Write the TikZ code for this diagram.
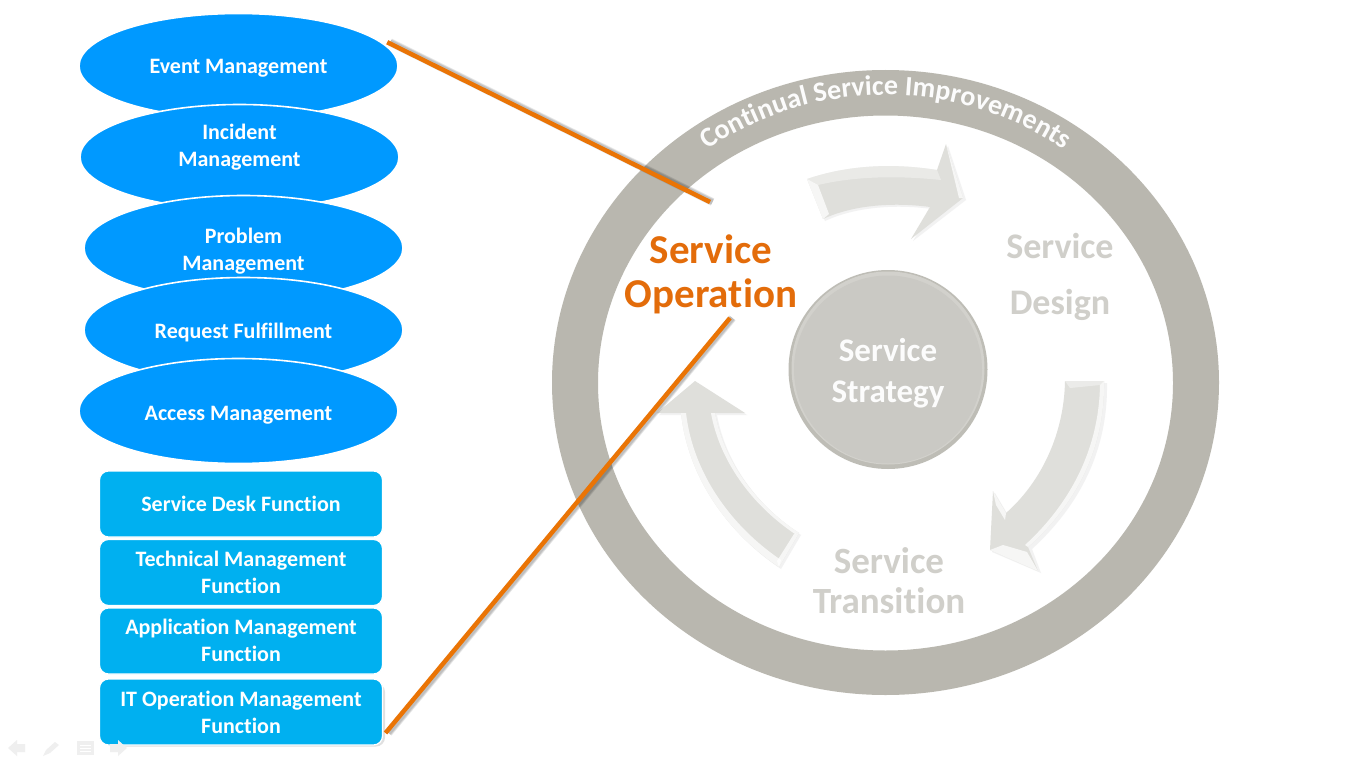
\documentclass[tikz,border=0pt]{standalone}
\usepackage{fontspec}
\setmainfont{Carlito}[Ligatures=NoCommon]
\usetikzlibrary{shapes.geometric,decorations.text,calc}
\definecolor{ringc}{HTML}{B9B7AF}
\definecolor{ellc}{HTML}{0099FF}
\definecolor{boxc}{HTML}{00B0F0}
\definecolor{orangec}{HTML}{E36C0A}
\definecolor{linec}{HTML}{EA7405}
\definecolor{greytxt}{HTML}{D0CFCA}
\definecolor{arrowc}{HTML}{DFDFDB}
\definecolor{hubc}{HTML}{CAC9C4}
\definecolor{hubd}{HTML}{BEBDB6}
\definecolor{hubl}{HTML}{D2D1CC}
\definecolor{navc}{HTML}{EFEFEF}
\newcommand{\lifted}[2]{\raisebox{#1}[0pt][0pt]{\begin{tabular}{@{}c@{}}#2\end{tabular}}}
\tikzset{
  x=1pt,y=-1pt,
  oval/.style={ellipse,fill=ellc,draw=white,line width=1.6pt,minimum width=319pt,minimum height=105pt,
    inner sep=0pt,outer sep=0pt,text=white,align=center,font=\fontsize{22}{27}\selectfont\bfseries},
  fnbox/.style={rectangle,rounded corners=9pt,fill=boxc,draw=white,line width=1.2pt,minimum width=283pt,minimum height=66pt,
    inner sep=0pt,outer sep=0pt,text=white,align=center,font=\fontsize{22}{27}\selectfont\bfseries},
  phase/.style={text=greytxt,align=center,inner sep=0pt,font=\fontsize{36}{40}\selectfont\bfseries},
  link/.style={draw=linec,line width=4.5pt},
  linkshadow/.style={draw=black,opacity=.09},
  flow/.style={fill=arrowc},
  flowshadow/.style={fill=black!5},
  bevel/.style={fill=white,opacity=.75},
  nav/.style={fill=navc,draw=none},
}
\begin{document}
\begin{tikzpicture}
\useasboundingbox (0,0) rectangle (1366,768);
\fill[white] (0,0) rectangle (1366,768);

% ---- ring
\fill[ringc,even odd rule] (885.5,382.5) ellipse [x radius=333.5pt,y radius=312.5pt]
      (885.5,383) ellipse [x radius=287.5pt,y radius=267.5pt];
\path[postaction={decorate},decoration={text along path,text align=center,
   text color=white!96!ringc,
   text={|\fontsize{28}{28}\selectfont\bfseries|Continual Service Improvements}}]
   plot[domain=146:34,samples=100] ({885.5+303*cos(\x)},{382-287*sin(\x)});

% ---- centre hub
\node[circle,fill=hubd,minimum size=199pt,inner sep=0pt,outer sep=0pt] (hub) at (888,369.5) {};
\fill[hubl] (888,368) circle [radius=96.5pt];
\fill[hubc] (888,369.5) circle [radius=94pt];
\node[text=white!95!hubc,align=center,inner sep=0pt,font=\fontsize{33}{41}\selectfont\bfseries] (strategy) at (888,373) {Service\\Strategy};

% ---- flow arrows: top
\path[flowshadow] (809,181) .. controls (850,167) and (895,165) .. (939,172) -- (948,146) -- (966,200) -- (913,241) -- (932,209)
   .. controls (895,204) and (855,207) .. (825,221) -- cycle;
\path[flow] (807,179) .. controls (848,165) and (893,163) .. (937,170) -- (946,144) -- (963,198) -- (911,239) -- (930,207)
   .. controls (893,202) and (853,205) .. (823,219) -- cycle;
\path[fill=white,opacity=.35] (807,179) .. controls (848,165) and (893,163) .. (937,170) -- (941,180)
   .. controls (893,175) and (852,177) .. (818,185) -- cycle;
\path[bevel] (807,179) -- (818,185) -- (829,214) -- (823,219) -- cycle;
\path[bevel] (946,144) -- (963,198) -- (959,198) -- cycle;

% ---- flow arrows: right
\path[flowshadow] (1067,383) -- (1107,383) .. controls (1108,450) and (1080,505) .. (1032,549) -- (1041,573) -- (992,552) -- (995,493) -- (1008,515)
   .. controls (1040,487) and (1066,440) .. (1067,383) -- cycle;
\path[flow] (1065,381) -- (1104,381) .. controls (1105,448) and (1077,503) .. (1028,547) -- (1038,571) -- (990,550) -- (993,491) -- (1006,513)
   .. controls (1038,485) and (1064,438) .. (1065,381) -- cycle;
\path[bevel] (1104,381) .. controls (1105,448) and (1077,503) .. (1028,547) -- (1025,545)
   .. controls (1071,503) and (1099,448) .. (1100,385) -- cycle;
\path[fill=white,opacity=.4] (1065,381) -- (1104,381) -- (1100,385) -- (1070,388) -- cycle;
\path[bevel] (990,550) -- (1038,571) -- (1027,552) -- (1003,545) -- cycle;
\path[bevel] (993,491) -- (1006,513) -- (1005,520) -- (996,505) -- cycle;

% ---- flow arrows: left
\path[flowshadow] (697,383) -- (747,415) -- (717,415)
   .. controls (725,460) and (755,505) .. (801,535) -- (781,569)
   .. controls (730,535) and (690,480) .. (683,415) -- (659,415) -- cycle;
\path[flow] (695,381) -- (745,413) -- (715,413)
   .. controls (723,458) and (753,503) .. (799,533) -- (779,567)
   .. controls (728,533) and (688,478) .. (681,413) -- (657,413) -- cycle;
\path[bevel] (681,413) -- (686,413)
   .. controls (693,474) and (732,527) .. (781,560) -- (779,567)
   .. controls (728,533) and (688,478) .. (681,413) -- cycle;
\path[bevel] (799,533) -- (794,534) -- (777,561) -- (779,567) -- cycle;
\path[bevel] (715,413) -- (711,413)
   .. controls (719,458) and (749,503) .. (795,534) -- (799,533)
   .. controls (753,503) and (723,458) .. (715,413) -- cycle;

% ---- phase labels
\node[phase,font=\fontsize{36}{56}\selectfont\bfseries] (design) at (1060,277) {Service\\Design};
\node[phase,font=\fontsize{37}{40}\selectfont\bfseries] (transition) at (889,581) {Service\\Transition};
\node[text=orangec,align=center,inner sep=0pt,font=\fontsize{41}{44}\selectfont\bfseries] (operation) at (711,274) {Service\\Operation};
\coordinate (opTop) at (710,202);
\coordinate (opBottom) at (730,318);

% ---- processes
\node[oval] (event) at (238.5,66) {\lifted{-7.5pt}{Event Management}};
\node[oval] (incident) at (239.5,157) {\lifted{4pt}{Incident\\Management}};
\node[oval] (problem) at (243.5,248) {\lifted{-9pt}{Problem\\Management}};
\node[oval] (request) at (243.5,330) {\lifted{-8.5pt}{Request Fulfillment}};
\node[oval] (access) at (238.5,411) {\lifted{-9pt}{Access Management}};

% ---- functions
\node[fnbox] (desk) at (241,504) {Service Desk Function};
\node[fnbox] (tech) at (241,572.5) {\lifted{-7.5pt}{Technical Management\\Function}};
\node[fnbox] (app) at (241,641) {\lifted{-7pt}{Application Management\\Function}};
\fill[black!12,rounded corners=9pt] (104,683) rectangle (385,746.5);
\node[fnbox] (itop) at (241,712) {\lifted{-8pt}{IT Operation Management\\Function}};

% ---- connectors
\foreach \w in {8,6.5,5}{
  \draw[linkshadow,line width=\w pt] ($(event.9)+(8,-1)$) -- ($(opTop)+(2.5,0)$);
  \draw[linkshadow,line width=\w pt] ($(itop.south east)+(6,-12)$) -- ($(opBottom)+(2.5,0)$);
}
\draw[link] ($(event.9)+(5,-1)$) -- (opTop);
\draw[link] ($(itop.south east)+(3,-12)$) -- (opBottom);

% ---- slide navigation icons
\path[nav] (8,748) -- (17,740) -- (17,744) -- (25,744) -- (25,752) -- (17,752) -- (17,756) -- cycle;
\path[nav] (43,756) -- (46,750) -- (55,742) -- (59,745) -- (50,753) -- cycle;
\path[nav] (77,741) rectangle (94,755);
\draw[white,line width=.8pt] (80,745) -- (91,745) (80,748) -- (91,748) (80,751) -- (91,751);
\path[nav] (127,748) -- (118,740) -- (118,744) -- (110,744) -- (110,752) -- (118,752) -- (118,756) -- cycle;
\end{tikzpicture}
\end{document}
